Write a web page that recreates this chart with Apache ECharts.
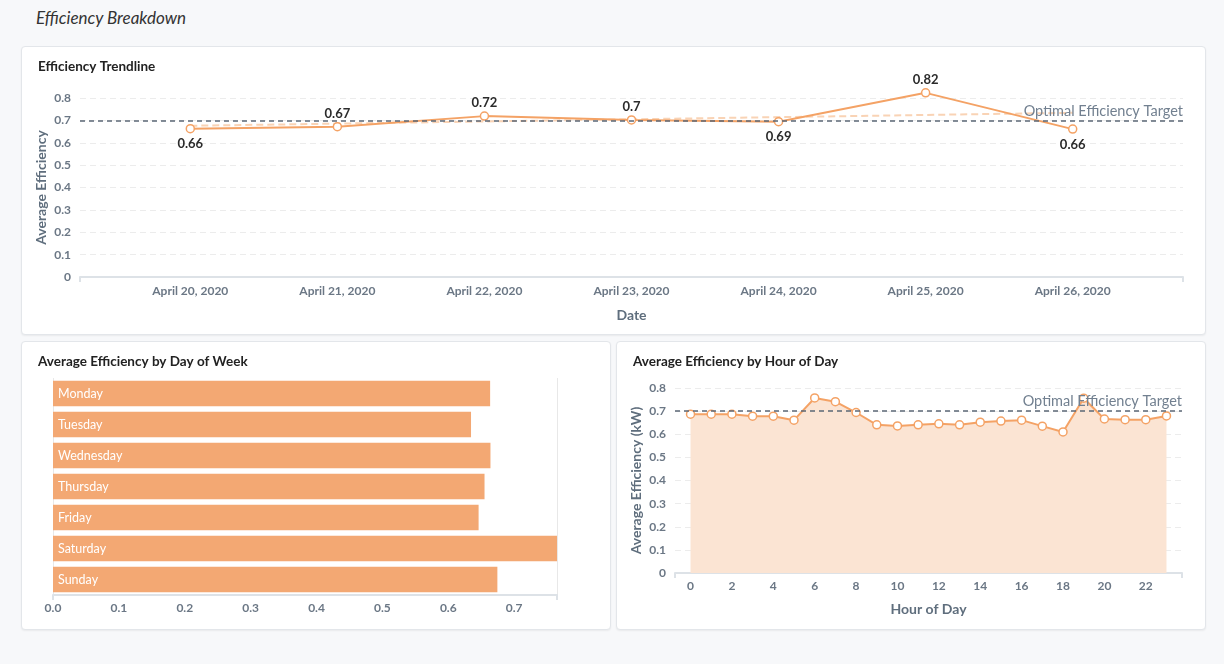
<!DOCTYPE html>
<html>
<head>
<meta charset="utf-8">
<script src="https://cdn.jsdelivr.net/npm/echarts@6.0.0/dist/echarts.min.js"></script>
<style>
  body { margin: 0; background: #f7f8fa; font-family: Lato, "Noto Sans", sans-serif; }
  #page { position: relative; width: 1224px; height: 664px; }
  h1 { position: absolute; left: 36px; top: 7px; margin: 0; font-size: 17px; font-weight: normal; font-style: italic; color: #333; }
  .card { position: absolute; background: #fff; border: 1px solid #e3e6ea; border-radius: 4px; box-shadow: 0 1px 2px rgba(0,0,0,0.06); }
  #trend { left: 21px; top: 46px; width: 1183px; height: 287px; }
  #dow { left: 21px; top: 341px; width: 588px; height: 287px; }
  #hour { left: 616px; top: 341px; width: 588px; height: 287px; }
</style>
</head>
<body>
<div id="page">
  <h1>Efficiency Breakdown</h1>
  <div class="card" id="trend"></div>
  <div class="card" id="dow"></div>
  <div class="card" id="hour"></div>
</div>
<script>
// daily trend
const dates = ["April 20, 2020", "April 21, 2020", "April 22, 2020", "April 23, 2020", "April 24, 2020", "April 25, 2020", "April 26, 2020"];
const dailyEff = [0.663, 0.672, 0.719, 0.702, 0.694, 0.823, 0.661];
// day of week
const days = ["Monday", "Tuesday", "Wednesday", "Thursday", "Friday", "Saturday", "Sunday"];
const dayEff = [0.6635, 0.6345, 0.664, 0.655, 0.646, 0.765, 0.6745];
// hour of day
const hours = [0, 1, 2, 3, 4, 5, 6, 7, 8, 9, 10, 11, 12, 13, 14, 15, 16, 17, 18, 19, 20, 21, 22, 23];
const hourEff = [0.687, 0.687, 0.687, 0.678, 0.678, 0.661, 0.757, 0.741, 0.694, 0.641, 0.636, 0.641, 0.645, 0.641, 0.652, 0.657, 0.661, 0.635, 0.61, 0.756, 0.666, 0.663, 0.663, 0.679];
const hourTicks = [0, 2, 4, 6, 8, 10, 12, 14, 16, 18, 20, 22];
const target = 0.7;
const targetName = "Optimal Efficiency Target";

const FONT = "Lato";
const ORANGE = "#f4a265";
const axisLbl = { color: "#6b7785", fontWeight: "bold", fontSize: 12, fontFamily: FONT };
const axisNm = { color: "#5f6e7d", fontWeight: "bold", fontSize: 14, fontFamily: FONT };
const titleStyle = { color: "#222", fontWeight: "bold", fontSize: 13.5, fontFamily: FONT };
const dashedSplit = { show: true, lineStyle: { color: "#ececec", type: [6, 4] } };
const fmt = (v) => String(Number(v.toFixed(2)));

function targetLine() {
  return {
    silent: true,
    symbol: "none",
    lineStyle: { color: "#5b6775", type: [5, 4], width: 1.5 },
    label: {
      position: "insideEndTop", formatter: targetName, distance: [0, 2],
      color: "#728090", fontSize: 14.5, fontFamily: FONT
    },
    data: [{ yAxis: target }]
  };
}

// linear regression trend for daily values
const n = dailyEff.length;
const mx = (n - 1) / 2;
const my = dailyEff.reduce((a, b) => a + b, 0) / n;
let sxy = 0, sxx = 0;
dailyEff.forEach((y, i) => { sxy += (i - mx) * (y - my); sxx += (i - mx) * (i - mx); });
const slope = sxy / sxx;
const trendPts = [[0, my - slope * mx], [n - 1, my + slope * (n - 1 - mx)]];

// label under local minima, above elsewhere
const dailyData = dailyEff.map((v, i) => {
  const prev = i > 0 ? dailyEff[i - 1] : Infinity;
  const next = i < n - 1 ? dailyEff[i + 1] : Infinity;
  const low = v < prev && v < next;
  return { value: [i, v], label: { position: low ? "bottom" : "top", distance: low ? 4 : 2 } };
});

const trendChart = echarts.init(document.getElementById("trend"));
trendChart.setOption({
  animation: false,
  title: { text: "Efficiency Trendline", left: 16, top: 13, padding: 0, textStyle: titleStyle },
  grid: { left: 58, top: 51, width: 1103, height: 179 },
  xAxis: {
    type: "value", min: -0.75, max: 6.75,
    name: "Date", nameLocation: "middle", nameGap: 31, nameTextStyle: axisNm,
    axisLine: { lineStyle: { color: "#dde2e7", width: 2 } },
    axisTick: { show: true, customValues: [-0.75, 6.75], length: 5, lineStyle: { color: "#dde2e7", width: 2 } },
    axisLabel: Object.assign({}, axisLbl, { customValues: dates.map((d, i) => i), formatter: (v) => dates[Math.round(v)], margin: 8 }),
    splitLine: { show: false }
  },
  yAxis: {
    type: "value", min: 0, max: 0.8, interval: 0.1,
    name: "Average Efficiency", nameLocation: "middle", nameGap: 32, nameMoveOverlap: false, nameTextStyle: axisNm,
    axisLine: { show: false }, axisTick: { show: false },
    axisLabel: Object.assign({}, axisLbl, { formatter: (v) => fmt(v), margin: 9 }),
    splitLine: dashedSplit
  },
  series: [
    {
      type: "line", data: trendPts, symbol: "none", silent: true, z: 1, clip: false,
      lineStyle: { color: "#f9d3b5", width: 2, type: [7, 4] }
    },
    {
      type: "line", data: dailyData, z: 3, clip: false,
      symbol: "circle", symbolSize: 8,
      lineStyle: { color: ORANGE, width: 2 },
      itemStyle: { color: "#fff", borderColor: ORANGE, borderWidth: 1.5 },
      label: { show: true, color: "#2b2b2b", fontWeight: "bold", fontSize: 13, fontFamily: FONT,
               formatter: (p) => fmt(p.value[1]) },
      markLine: targetLine()
    }
  ]
});

const dowChart = echarts.init(document.getElementById("dow"));
dowChart.setOption({
  animation: false,
  title: { text: "Average Efficiency by Day of Week", left: 16, top: 13, padding: 0, textStyle: titleStyle },
  grid: { left: 31, top: 36, width: 504, height: 217 },
  xAxis: {
    type: "value", min: 0, max: "dataMax", interval: 0.1,
    axisLine: { show: true, lineStyle: { color: "#dde2e7", width: 2 } },
    axisTick: { show: true, customValues: [0, Math.max.apply(null, dayEff)], length: 5, lineStyle: { color: "#dde2e7", width: 2 } },
    axisLabel: Object.assign({}, axisLbl, {
      margin: 7,
      formatter: (v) => Math.abs(v * 10 - Math.round(v * 10)) < 1e-6 ? v.toFixed(1) : ""
    }),
    splitLine: { show: true, lineStyle: { color: "#e8e8e8" } }
  },
  yAxis: {
    type: "category", data: days, inverse: true,
    axisLine: { show: false }, axisTick: { show: false }, axisLabel: { show: false }
  },
  series: [{
    type: "bar", data: dayEff, barCategoryGap: "18%",
    itemStyle: { color: "#f3a873" },
    label: { show: true, position: "insideLeft", distance: 5, color: "#fff", fontSize: 12.5, fontFamily: FONT,
             formatter: (p) => p.name }
  }]
});

const hourChart = echarts.init(document.getElementById("hour"));
hourChart.setOption({
  animation: false,
  title: { text: "Average Efficiency by Hour of Day", left: 16, top: 13, padding: 0, textStyle: titleStyle },
  grid: { left: 58, top: 46, width: 507, height: 185 },
  xAxis: {
    type: "value", min: -0.75, max: 23.75,
    name: "Hour of Day", nameLocation: "middle", nameGap: 29, nameTextStyle: axisNm,
    axisLine: { lineStyle: { color: "#dde2e7", width: 2 } },
    axisTick: { show: true, customValues: [-0.75, 23.75], length: 5, lineStyle: { color: "#dde2e7", width: 2 } },
    axisLabel: Object.assign({}, axisLbl, { customValues: hourTicks, margin: 7 }),
    splitLine: { show: false }
  },
  yAxis: {
    type: "value", min: 0, max: 0.8, interval: 0.1,
    name: "Average Efficiency (kW)", nameLocation: "middle", nameGap: 32, nameMoveOverlap: false, nameTextStyle: axisNm,
    axisLine: { show: false }, axisTick: { show: false },
    axisLabel: Object.assign({}, axisLbl, { formatter: (v) => fmt(v), margin: 9 }),
    splitLine: dashedSplit
  },
  series: [{
    type: "line", data: hours.map((h, i) => [h, hourEff[i]]),
    symbol: "circle", symbolSize: 8,
    lineStyle: { color: ORANGE, width: 2 },
    itemStyle: { color: "#fff", borderColor: ORANGE, borderWidth: 1.5 },
    areaStyle: { color: "#fbe4d3", opacity: 1 },
    markLine: targetLine()
  }]
});
</script>
</body>
</html>
